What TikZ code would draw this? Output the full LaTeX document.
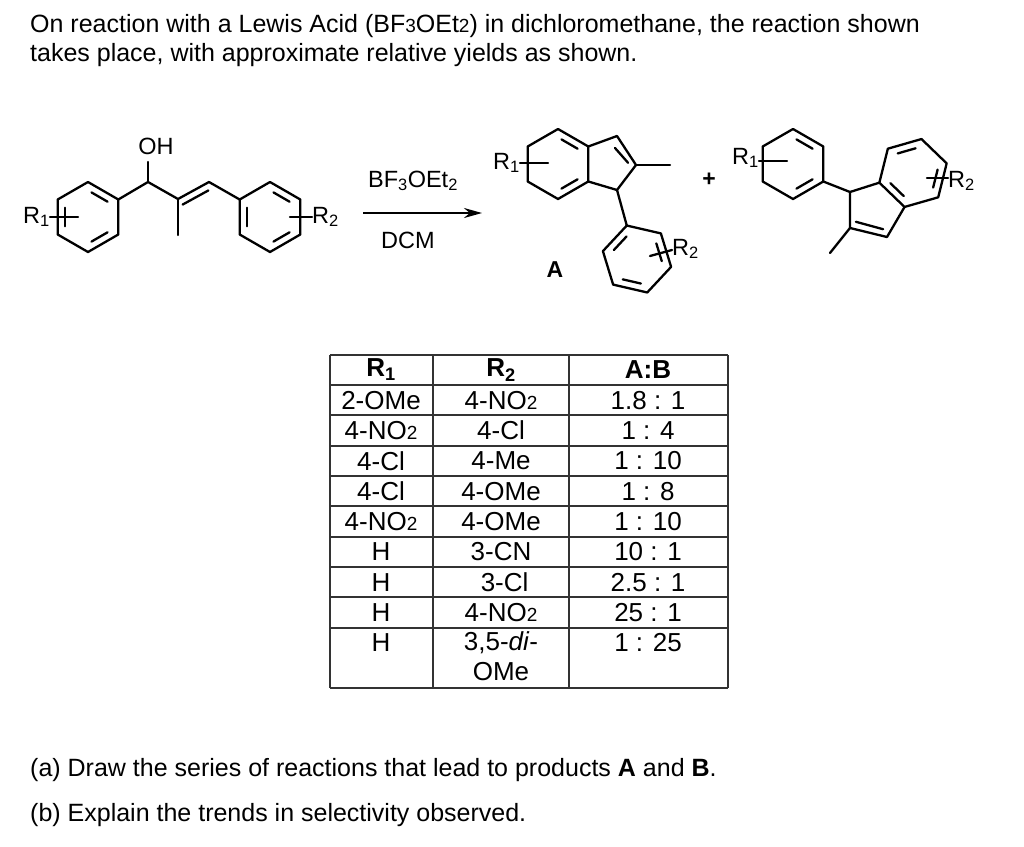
\documentclass[tikz,border=0pt]{standalone}
\usepackage{fontspec}
\setmainfont{Liberation Sans}
\usetikzlibrary{calc,arrows.meta}
\newcommand{\ringdraw}[5]{% name, cx, cy, start, edges list
  \coordinate (#1c) at (#2,#3);
  \foreach \k in {0,...,5}{\coordinate (#1v\k) at ($(#1c)+({#4+60*\k}:35)$);}
  \draw[bond] (#1v0)--(#1v1)--(#1v2)--(#1v3)--(#1v4)--(#1v5)--cycle;
  \foreach \k in {#5}{\pgfmathtruncatemacro{\kn}{mod(\k+1,6)}
    \draw[bond,shorten <=4pt,shorten >=4pt] ($(#1c)!0.76!(#1v\k)$)--($(#1c)!0.76!(#1v\kn)$);}
}
\newcommand{\nit}{NO{\fontsize{19}{19}\selectfont 2}}
\newcommand{\tabrow}[4]{%
  \node[cell] (ca#1) at (381,{370+30.3*#1}) {#2};
  \node[cell] (cb#1) at (501,{370+30.3*#1}) {#3};
  \node[cell] (cc#1) at (648,{370+30.3*#1}) {#4};}
\begin{document}
\begin{tikzpicture}[x=1pt,y=-1pt,
  bond/.style={line width=2.3pt,line cap=round,line join=round},
  txt/.style={inner sep=0pt,font=\fontsize{25}{30}\selectfont},
  lbl/.style={inner sep=0pt,font=\fontsize{23.5}{26}\selectfont},
  cell/.style={inner sep=0pt,font=\fontsize{26}{30}\selectfont},
  grid/.style={line width=1.4pt,draw=black!80}]
\useasboundingbox (0,0) rectangle (1024,846);
\node[txt,anchor=west] (t1) at (30,26) {On reaction with a Lewis Acid (BF{\fontsize{19}{19}\selectfont 3}OEt{\fontsize{19}{19}\selectfont 2}) in dichloromethane, the reaction shown};
\node[txt,anchor=west] (t2) at (30,55) {takes place, with approximate relative yields as shown.};
% starting material
\ringdraw{L}{88}{217}{-90}{0,2,4}
\ringdraw{R}{270}{217}{-90}{0,2,4}
\coordinate (ch) at (148,182); \coordinate (c2) at (178,199); \coordinate (c3) at (209,182);
\draw[bond] (Lv1)--(ch)--(c2)--(c3)--(Rv5);
\draw[bond] (ch)--(148,162);
\draw[bond] (c2)--(178,235);
\draw[bond,shorten <=3pt,shorten >=3pt] ($(c2)+(2,7)$)--($(c3)+(2,7)$);
\node[lbl] (oh) at (156,146) {OH};
\coordinate (r1s) at (50,217); \coordinate (r1e) at (78,217);
\draw[bond] (r1s)--(r1e);
\node[lbl,anchor=east] (r1) at (r1s) {R\textsubscript{1}};
\coordinate (r2s) at (290,217); \coordinate (r2e) at (312,217);
\draw[bond] (r2s)--(r2e);
\node[lbl,anchor=west] (r2) at (r2e) {R\textsubscript{2}};
% arrow
\coordinate (a1) at (363,213); \coordinate (a2) at (482,213);
\draw[line width=2.3pt,-{Stealth[length=18pt,width=10pt]}] (a1)--(a2);
\node[lbl] (bf) at (413,181) {BF\textsubscript{3}OEt\textsubscript{2}};
\node[lbl] (dcm) at (408,240) {DCM};
% product A
\ringdraw{A}{558}{164}{-90}{0,2}
\coordinate (A3) at (617,136); \coordinate (A2) at (636,165); \coordinate (A1) at (617,190);
\draw[bond] (Av1)--(A3)--(A2)--(A1)--(Av2);
\draw[bond] (A2)--(670,165);
\draw[bond,shorten <=3pt,shorten >=3pt] ($(A3)!0.18!(A1)+(-4,0)$)--($(A2)+(-6,0)$);
\ringdraw{P}{637}{259}{253}{1,3,5}
\draw[bond] (A1)--(Pv0);
\draw[bond] (520,163)--(548,163);
\node[lbl,anchor=east] (ar1) at (520,163) {R\textsubscript{1}};
\draw[bond] (650,256)--(672,250);
\node[lbl,anchor=west] (ar2) at (672,249) {R\textsubscript{2}};
\node[inner sep=0pt,font=\bfseries\fontsize{23}{26}\selectfont] (lA) at (555,270) {A};
\node[inner sep=0pt,font=\bfseries\fontsize{23}{26}\selectfont] (plus) at (709,180) {+};
% product B
\ringdraw{B}{793}{164}{-90}{0,2}
\coordinate (B1) at (850,192);
\ringdraw{Q}{913}{173}{164}{1,3,5}
\coordinate (B2) at (850,228); \coordinate (B3) at (887,237);
\draw[bond] (Bv2)--(B1)--(Qv0);
\draw[bond] (B1)--(B2)--(B3)--(Qv5);
\draw[bond] (B2)--(830,253);
\draw[bond,shorten <=3pt,shorten >=3pt] ($(B2)+(3,-7)$)--($(B3)+(-1,-7)$);
\draw[bond] (759,161)--(787,161);
\node[lbl,anchor=east] (br1) at (759,158) {R\textsubscript{1}};
\draw[bond] (927,178)--(948,178);
\node[lbl,anchor=west] (br2) at (948,181) {R\textsubscript{2}};
% table
\foreach \y in {355,385,415,446,476,506,537,567,597,628,688}{\draw[grid] (330,\y)--(728,\y);}
\foreach \x in {330,433,569,728}{\draw[grid] (\x,355)--(\x,688);}
\tabrow{0}{\textbf{R\textsubscript{1}}}{\textbf{R\textsubscript{2}}}{\textbf{A:B}}
\tabrow{1}{2-OMe}{4-\nit}{1.8 : 1}
\tabrow{2}{4-\nit}{4-Cl}{1 : 4}
\tabrow{3}{4-Cl}{4-Me}{1 : 10}
\tabrow{4}{4-Cl}{4-OMe}{1 : 8}
\tabrow{5}{4-\nit}{4-OMe}{1 : 10}
\tabrow{6}{H}{3-CN}{10 : 1}
\tabrow{7}{H}{\ 3-Cl}{2.5 : 1}
\tabrow{8}{H}{4-\nit}{25 : 1}
\tabrow{9}{H}{3,5-\textit{di}-}{1 : 25}
\node[cell] (cb10) at (501,672) {OMe};
\node[txt,anchor=west] (qa) at (30,770) {(a) Draw the series of reactions that lead to products \textbf{A} and \textbf{B}.};
\node[txt,anchor=west] (qb) at (30,815) {(b) Explain the trends in selectivity observed.};
\end{tikzpicture}
\end{document}
